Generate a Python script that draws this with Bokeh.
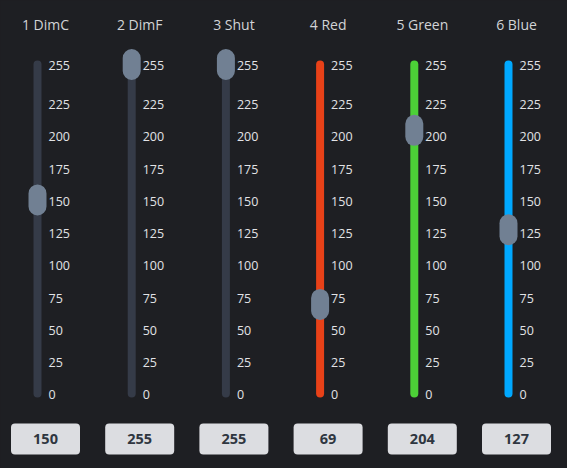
from bokeh.plotting import figure
from bokeh.models import Range1d, ColumnDataSource
from bokeh.core.properties import value
from bokeh.embed import file_html
from bokeh.resources import INLINE

# ---- data ----
channels = ["1 DimC", "2 DimF", "3 Shut", "4 Red", "5 Green", "6 Blue"]
levels = [150, 255, 255, 69, 204, 127]
track_colors = ["#353b48", "#353b48", "#353b48", "#e84118", "#4cd137", "#00a8ff"]
tick_values = [0, 25, 50, 75, 100, 125, 150, 175, 200, 225, 255]
value_min = 0
value_max = 255

BG = "#1e1f23"
FONT = "Open Sans"

idx = list(range(len(channels)))

p = figure(width=567, height=468, output_backend="svg", toolbar_location=None,
           x_range=Range1d(-0.3928, 5.6263), y_range=Range1d(-58.13, 304.6),
           min_border=0, outline_line_color=None)
p.axis.visible = False
p.grid.visible = False
p.background_fill_color = BG
p.border_fill_color = BG

# tracks
p.segment(x0=idx, y0=[value_min] * len(idx), x1=idx, y1=[value_max] * len(idx),
          line_color=track_colors, line_width=8, line_cap="round")

# tick labels
tx, ty, tt = [], [], []
for i in idx:
    for t in tick_values:
        tx.append(i)
        ty.append(t)
        tt.append(str(t))
p.text(x=tx, y=ty, text=tt, x_offset=11, y_offset=1.5, text_align="left",
       text_baseline="middle", text_color="#e2e3e6", text_font=value(FONT),
       text_font_size="12.5px")

# thumbs
p.rect(x=idx, y=levels, width=18, height=31, width_units="screen",
       height_units="screen", fill_color="#718093", line_color=None,
       border_radius=9)

# headers
p.text(x=idx, y=[286] * len(idx), text=channels, x_offset=8, text_align="center",
       text_baseline="middle", text_color="#d2d3d6", text_font=value(FONT),
       text_font_size="14px")

# value boxes
box_x = [i + 8 / 94.2 for i in idx]
p.rect(x=box_x, y=[-35.3] * len(idx), width=69, height=31, width_units="screen",
       height_units="screen", fill_color="#dcdde1", line_color=None,
       border_radius=4)
p.text(x=box_x, y=[-35.3] * len(idx), text=[str(v) for v in levels],
       text_align="center", text_baseline="middle", text_color="#2f3640",
       text_font=value(FONT), text_font_style="bold", text_font_size="14.5px")

html = file_html(p, INLINE, title="Faders")
html = html.replace("</head>", "<style>html,body{margin:0;padding:0;background:%s;overflow:hidden}</style></head>" % BG, 1)
open("out.html", "w").write(html)
